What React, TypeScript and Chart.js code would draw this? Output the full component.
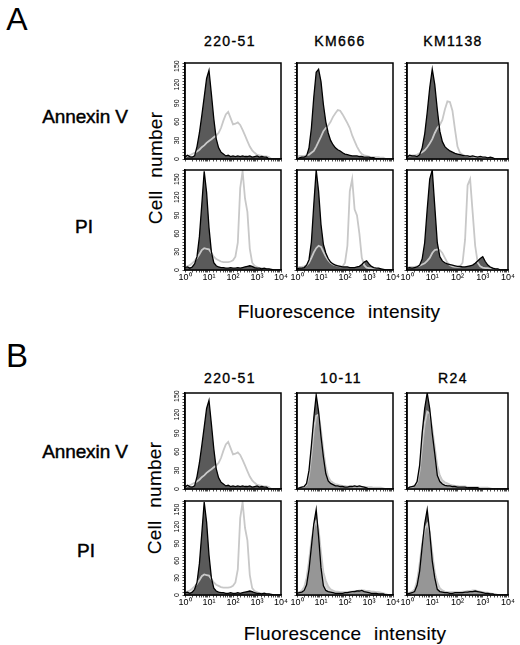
import React, { useEffect, useRef } from "react";
import { Chart, registerables } from "chart.js";
Chart.register(...registerables);

// log10 of fluorescence intensity at each histogram channel
const BIN_EXP = [
  0.0, 0.1, 0.2, 0.3, 0.4, 0.5, 0.6, 0.7, 0.8, 0.9,
  1.0, 1.1, 1.2, 1.3, 1.4, 1.5, 1.6, 1.7, 1.8, 1.9,
  2.0, 2.1, 2.2, 2.3, 2.4, 2.5, 2.6, 2.7, 2.8, 2.9,
  3.0, 3.1, 3.2, 3.3, 3.4, 3.5, 3.6, 3.7, 3.8, 3.9,
  4.0,
];
const X_TICK_LABELS = ["10⁰", "10¹", "10²", "10³", "10⁴"];
const Y_TICK_VALUES = [0, 30, 60, 90, 120, 150];

const SECTION_LABELS = ["A", "B"];
const ROW_LABELS = ["Annexin V", "PI"];
const A_COLUMNS = ["220-51", "KM666", "KM1138"];
const B_COLUMNS = ["220-51", "10-11", "R24"];
const Y_TITLE = "Cell number";
const X_TITLE = "Fluorescence intensity";

// Panel A / B, 220-51
const ANNV_22051_CONTROL = [3, 6, 4, 3, 5, 20, 42, 70, 100, 130, 143, 105, 65, 33, 18, 11, 8, 5, 6, 4, 5, 4, 5, 4, 5, 4, 4, 5, 3, 4, 5, 3, 4, 3, 3, 0, 0, 0, 0, 0, 0];
const ANNV_22051_TREATED = [3, 5, 6, 8, 10, 12, 15, 19, 22, 26, 29, 32, 35, 38, 42, 50, 62, 72, 76, 66, 56, 57, 59, 55, 47, 38, 29, 20, 14, 10, 7, 6, 5, 4, 4, 3, 0, 0, 0, 0, 0];
const PI_22051_CONTROL = [4, 5, 3, 5, 10, 22, 55, 108, 163, 128, 70, 30, 12, 7, 5, 4, 4, 3, 3, 4, 3, 3, 4, 3, 4, 5, 6, 7, 6, 4, 3, 3, 2, 3, 2, 2, 1, 0, 0, 0, 0];
const PI_22051_TREATED = [4, 6, 8, 11, 15, 20, 26, 33, 36, 35, 34, 28, 22, 18, 16, 14, 13, 13, 13, 14, 16, 22, 45, 135, 163, 118, 96, 35, 12, 7, 5, 3, 3, 2, 2, 0, 0, 0, 0, 0, 0];
// Panel A, KM666
const ANNV_KM666_CONTROL = [0, 2, 3, 3, 5, 18, 50, 100, 140, 145, 125, 88, 60, 42, 30, 23, 18, 15, 13, 10, 8, 7, 6, 5, 5, 5, 4, 4, 3, 3, 3, 2, 2, 0, 0, 0, 0, 0, 0, 0, 0];
const ANNV_KM666_TREATED = [4, 5, 5, 5, 6, 7, 10, 13, 20, 28, 36, 45, 50, 54, 60, 68, 74, 79, 78, 72, 65, 58, 50, 38, 29, 20, 13, 8, 6, 5, 4, 3, 3, 3, 3, 2, 2, 0, 0, 0, 0];
const PI_KM666_CONTROL = [2, 3, 3, 4, 8, 17, 46, 108, 165, 130, 75, 42, 28, 19, 13, 10, 8, 7, 6, 5, 5, 5, 4, 4, 4, 5, 6, 9, 13, 15, 10, 6, 4, 3, 3, 2, 1, 0, 0, 0, 0];
const PI_KM666_TREATED = [4, 5, 5, 6, 8, 12, 20, 29, 36, 40, 38, 30, 22, 16, 12, 9, 8, 7, 6, 6, 12, 40, 130, 150, 100, 90, 60, 20, 8, 4, 3, 3, 2, 2, 0, 0, 0, 0, 0, 0, 0];
// Panel A, KM1138
const ANNV_KM1138_CONTROL = [3, 6, 5, 5, 4, 7, 18, 40, 75, 115, 145, 120, 80, 45, 28, 20, 16, 13, 11, 9, 8, 7, 6, 5, 5, 4, 5, 4, 3, 4, 3, 3, 2, 3, 2, 0, 0, 0, 0, 0, 0];
const ANNV_KM1138_TREATED = [4, 5, 6, 6, 7, 9, 11, 14, 19, 25, 32, 42, 50, 55, 63, 80, 93, 92, 78, 48, 20, 10, 7, 5, 5, 4, 4, 3, 3, 3, 2, 2, 0, 0, 0, 0, 0, 0, 0, 0, 0];
const PI_KM1138_CONTROL = [3, 4, 3, 4, 5, 8, 18, 45, 100, 150, 165, 105, 45, 22, 15, 12, 10, 9, 8, 7, 6, 6, 5, 5, 6, 7, 8, 11, 15, 19, 22, 14, 8, 5, 3, 2, 2, 0, 0, 0, 0];
const PI_KM1138_TREATED = [4, 5, 5, 5, 6, 7, 9, 11, 15, 20, 28, 33, 34, 33, 28, 20, 12, 8, 6, 5, 5, 6, 12, 50, 140, 150, 95, 40, 12, 6, 4, 3, 3, 2, 0, 0, 0, 0, 0, 0, 0];
// Panel B, 10-11
const ANNV_1011_CONTROL = [0, 2, 3, 4, 9, 30, 70, 115, 152, 125, 85, 52, 25, 13, 9, 7, 5, 5, 4, 4, 3, 3, 4, 4, 5, 4, 5, 4, 3, 2, 0, 0, 0, 0, 0, 0, 0, 0, 0, 0, 0];
const ANNV_1011_TREATED = [0, 2, 3, 4, 7, 22, 55, 95, 118, 120, 95, 62, 35, 20, 13, 10, 8, 7, 6, 5, 5, 4, 4, 4, 4, 4, 4, 3, 3, 3, 3, 3, 2, 2, 2, 2, 1, 0, 0, 0, 0];
const PI_1011_CONTROL = [3, 4, 5, 8, 18, 45, 85, 125, 150, 103, 48, 16, 8, 6, 5, 4, 3, 3, 3, 3, 4, 4, 5, 6, 6, 7, 7, 8, 6, 5, 4, 3, 3, 3, 2, 2, 2, 0, 0, 0, 0];
const PI_1011_TREATED = [4, 5, 8, 14, 30, 60, 95, 120, 130, 115, 75, 40, 25, 15, 10, 8, 6, 6, 5, 5, 5, 5, 6, 6, 7, 7, 8, 8, 8, 7, 7, 6, 6, 5, 5, 4, 3, 2, 0, 0, 0];
// Panel B, R24
const ANNV_R24_CONTROL = [0, 3, 4, 5, 12, 38, 90, 130, 155, 130, 90, 57, 22, 12, 8, 6, 5, 5, 4, 4, 3, 3, 3, 3, 2, 2, 2, 2, 2, 0, 0, 0, 0, 0, 0, 0, 0, 0, 0, 0, 0];
const ANNV_R24_TREATED = [0, 2, 3, 5, 10, 30, 70, 105, 125, 122, 98, 68, 38, 22, 14, 11, 9, 7, 6, 5, 5, 4, 4, 4, 3, 3, 3, 3, 3, 2, 2, 2, 2, 1, 0, 0, 0, 0, 0, 0, 0];
const PI_R24_CONTROL = [2, 3, 4, 6, 17, 42, 85, 125, 150, 110, 60, 30, 10, 6, 5, 4, 4, 3, 3, 4, 4, 4, 4, 5, 5, 6, 6, 7, 6, 5, 4, 3, 3, 2, 2, 0, 0, 0, 0, 0, 0];
const PI_R24_TREATED = [3, 4, 6, 10, 25, 55, 90, 115, 125, 110, 75, 40, 22, 12, 8, 6, 5, 5, 5, 5, 5, 5, 6, 6, 7, 7, 8, 8, 7, 6, 5, 4, 4, 3, 2, 2, 0, 0, 0, 0, 0];

const Y_MAX_ANNV = 155;
const Y_MAX_PI = 165;

const FONT = "'Liberation Sans', Arial, Helvetica, sans-serif";

// layout (pixels)
const COLS = [
  { left: 185, w: 96 },
  { left: 297, w: 96 },
  { left: 407, w: 101 },
];
const ROWS_A = [
  { top: 63, h: 96 },
  { top: 170, h: 100 },
];
const ROWS_B = [
  { top: 393, h: 96 },
  { top: 501, h: 94 },
];

const boxPlugin = {
  id: "panelBox",
  afterDraw(chart: any) {
    const { ctx, chartArea: a } = chart;
    ctx.save();
    ctx.strokeStyle = "#000";
    ctx.lineWidth = 1.5;
    ctx.strokeRect(a.left, a.top, a.right - a.left, a.bottom - a.top);
    ctx.restore();
  },
};

type PanelProps = {
  control: number[];
  treated: number[];
  fillTreated: boolean;
  yMax: number;
  showYLabels: boolean;
  showXLabels: boolean;
  left: number;
  top: number;
  w: number;
  h: number;
};

function Histogram(p: PanelProps) {
  const ref = useRef<HTMLCanvasElement>(null);
  const YW = 16;
  const PADT = 4;
  const PADR = 8;
  const XH = p.showXLabels ? 16 : 4;
  const cw = YW + p.w + PADR;
  const ch = PADT + p.h + XH;

  useEffect(() => {
    const toPts = (arr: number[]) => arr.map((y, i) => ({ x: Math.pow(10, BIN_EXP[i]), y }));
    const chart = new Chart(ref.current as HTMLCanvasElement, {
      type: "line",
      data: {
        datasets: [
          {
            data: toPts(p.control),
            fill: "origin",
            backgroundColor: "#5a5a5a",
            borderColor: "rgba(0,0,0,0)",
            borderWidth: 0,
            pointRadius: 0,
            tension: 0,
            order: 3,
          },
          {
            data: toPts(p.treated),
            fill: p.fillTreated ? "origin" : false,
            backgroundColor: "rgba(190,190,190,0.6)",
            borderColor: "#c8c8c8",
            borderWidth: 1.8,
            pointRadius: 0,
            tension: 0,
            order: 2,
          },
          {
            data: toPts(p.control),
            fill: false,
            borderColor: "#000",
            borderWidth: 1.3,
            pointRadius: 0,
            tension: 0,
            order: 1,
          },
        ],
      } as any,
      options: {
        animation: false,
        responsive: false,
        maintainAspectRatio: false,
        events: [],
        layout: { padding: { top: PADT, right: PADR, left: 0, bottom: 0 } },
        plugins: { legend: { display: false }, tooltip: { enabled: false } },
        scales: {
          x: {
            type: "logarithmic",
            min: 1,
            max: 10000,
            position: "bottom",
            afterFit: (s: any) => {
              s.height = XH;
              s.paddingLeft = 0;
              s.paddingRight = 0;
            },
            border: { display: true, color: "#000", width: 1.5 },
            grid: {
              display: true,
              drawOnChartArea: false,
              drawTicks: true,
              tickLength: 2.5,
              color: "#000",
              lineWidth: 0.7,
            },
            ticks: {
              display: p.showXLabels,
              autoSkip: false,
              maxRotation: 0,
              minRotation: 0,
              padding: 0,
              color: "#000",
              font: { family: FONT, size: 9 },
              callback: (v: any) => {
                const e = Math.log10(Number(v));
                if (Math.abs(e - Math.round(e)) < 1e-6) return X_TICK_LABELS[Math.round(e)];
                return "";
              },
            },
          },
          y: {
            type: "linear",
            min: 0,
            max: p.yMax,
            position: "left",
            afterFit: (s: any) => {
              s.width = YW;
              s.paddingTop = 0;
              s.paddingBottom = 0;
            },
            border: { display: true, color: "#000", width: 1.5 },
            grid: {
              display: true,
              drawOnChartArea: false,
              drawTicks: true,
              tickLength: 2.5,
              color: "#000",
              lineWidth: 0.7,
            },
            ticks: {
              display: p.showYLabels,
              stepSize: 5,
              autoSkip: false,
              minRotation: 90,
              maxRotation: 90,
              crossAlign: "center",
              padding: 0,
              color: "#000",
              font: { family: FONT, size: 7 },
              callback: (v: any) => (Y_TICK_VALUES.includes(Number(v)) ? String(v) : ""),
            },
          },
        },
      } as any,
      plugins: [boxPlugin],
    });
    return () => chart.destroy();
  }, []);

  return (
    <canvas
      ref={ref}
      width={cw}
      height={ch}
      style={{ position: "absolute", left: p.left - YW, top: p.top - PADT, width: cw, height: ch }}
    />
  );
}

function Text(props: { x: number; y: number; text: string; size: number; rotate?: number; style?: any }) {
  return (
    <div
      style={{
        position: "absolute",
        left: props.x,
        top: props.y,
        transform: `translate(-50%, -50%) rotate(${props.rotate || 0}deg)`,
        fontFamily: FONT,
        fontSize: props.size,
        lineHeight: 1,
        whiteSpace: "nowrap",
        color: "#000",
        ...(props.style || {}),
      }}
    >
      {props.text}
    </div>
  );
}

const A_DATA = [
  [ANNV_22051_CONTROL, ANNV_22051_TREATED, ANNV_KM666_CONTROL, ANNV_KM666_TREATED, ANNV_KM1138_CONTROL, ANNV_KM1138_TREATED],
  [PI_22051_CONTROL, PI_22051_TREATED, PI_KM666_CONTROL, PI_KM666_TREATED, PI_KM1138_CONTROL, PI_KM1138_TREATED],
];
const B_DATA = [
  [ANNV_22051_CONTROL, ANNV_22051_TREATED, ANNV_1011_CONTROL, ANNV_1011_TREATED, ANNV_R24_CONTROL, ANNV_R24_TREATED],
  [PI_22051_CONTROL, PI_22051_TREATED, PI_1011_CONTROL, PI_1011_TREATED, PI_R24_CONTROL, PI_R24_TREATED],
];

function Section(props: { rows: { top: number; h: number }[]; data: number[][][]; fillTreatedFrom: number; keyPrefix: string }) {
  const out: any[] = [];
  props.rows.forEach((row, r) => {
    COLS.forEach((col, c) => {
      out.push(
        <Histogram
          key={`${props.keyPrefix}-${r}-${c}`}
          control={props.data[r][c * 2]}
          treated={props.data[r][c * 2 + 1]}
          fillTreated={c >= props.fillTreatedFrom}
          yMax={r === 0 ? Y_MAX_ANNV : Y_MAX_PI}
          showYLabels={c === 0}
          showXLabels={r === 1}
          left={col.left}
          top={row.top}
          w={col.w}
          h={row.h}
        />
      );
    });
  });
  return <>{out}</>;
}

export default function App() {
  const headerStyle = { letterSpacing: "1.4px", WebkitTextStroke: "0.35px #000" };
  const rowStyle = { letterSpacing: "-0.1px", WebkitTextStroke: "0.45px #000" };
  const titleStyle = { wordSpacing: "7px", letterSpacing: "0.3px", WebkitTextStroke: "0.15px #000" };
  return (
    <div style={{ position: "fixed", left: 0, top: 0, width: 520, height: 645, background: "#fff", overflow: "hidden" }}>
      <Text x={17} y={19} text={SECTION_LABELS[0]} size={32} />
      <Text x={17} y={355} text={SECTION_LABELS[1]} size={33} />

      {A_COLUMNS.map((t, i) => (
        <Text key={"ah" + i} x={[230, 340, 453][i]} y={41} text={t} size={14} style={headerStyle} />
      ))}
      {B_COLUMNS.map((t, i) => (
        <Text key={"bh" + i} x={[230, 341, 453][i]} y={378} text={t} size={14} style={headerStyle} />
      ))}

      <Text x={85} y={116} text={ROW_LABELS[0]} size={19} style={rowStyle} />
      <Text x={84} y={226} text={ROW_LABELS[1]} size={19} style={rowStyle} />
      <Text x={85} y={451} text={ROW_LABELS[0]} size={19} style={rowStyle} />
      <Text x={86} y={550} text={ROW_LABELS[1]} size={19} style={rowStyle} />

      <Text x={155} y={168} text={Y_TITLE} size={19} rotate={-90} style={titleStyle} />
      <Text x={154} y={498} text={Y_TITLE} size={19} rotate={-90} style={titleStyle} />

      <Text x={339} y={311} text={X_TITLE} size={19} style={titleStyle} />
      <Text x={345} y={633} text={X_TITLE} size={19} style={titleStyle} />

      <Section rows={ROWS_A} data={A_DATA} fillTreatedFrom={99} keyPrefix="A" />
      <Section rows={ROWS_B} data={B_DATA} fillTreatedFrom={1} keyPrefix="B" />
    </div>
  );
}
